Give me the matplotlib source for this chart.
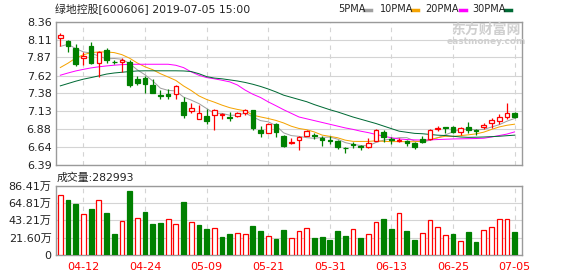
import numpy as np
import matplotlib
matplotlib.use("Agg")
import matplotlib.pyplot as plt
from matplotlib.lines import Line2D

plt.rcParams['font.family'] = ['DejaVu Sans', 'Noto Sans CJK SC']

dates = ["04-09", "04-10", "04-11", "04-12", "04-15", "04-16", "04-17", "04-18", "04-19", "04-22",
         "04-23", "04-24", "04-25", "04-26", "04-29", "04-30", "05-06", "05-07", "05-08", "05-09",
         "05-10", "05-13", "05-14", "05-15", "05-16", "05-17", "05-20", "05-21", "05-22", "05-23",
         "05-24", "05-27", "05-28", "05-29", "05-30", "05-31", "06-03", "06-04", "06-05", "06-06",
         "06-10", "06-11", "06-12", "06-13", "06-14", "06-17", "06-18", "06-19", "06-20", "06-21",
         "06-24", "06-25", "06-26", "06-27", "06-28", "07-01", "07-02", "07-03", "07-04", "07-05"]

opens = [8.13, 8.09, 8.00, 7.857, 8.026, 7.79, 7.97, 7.81, 7.80, 7.81,
         7.572, 7.58, 7.486, 7.35, 7.366, 7.362, 7.26, 7.137, 7.022, 7.064,
         7.077, 7.077, 7.05, 7.07, 7.10, 7.146, 6.871, 6.834, 6.95, 6.793,
         6.69, 6.734, 6.793, 6.80, 6.765, 6.73, 6.724, 6.63, 6.675, 6.645,
         6.633, 6.724, 6.845, 6.75, 6.72, 6.724, 6.688, 6.752, 6.743, 6.88,
         6.912, 6.91, 6.85, 6.91, 6.87, 6.917, 6.963, 7.00, 7.046, 7.10]
highs = [8.20, 8.11, 8.05, 7.94, 8.085, 7.96, 7.994, 7.84, 7.857, 7.833,
         7.614, 7.614, 7.572, 7.42, 7.43, 7.49, 7.329, 7.238, 7.215, 7.156,
         7.16, 7.11, 7.115, 7.12, 7.156, 7.15, 6.93, 6.963, 6.963, 6.80,
         6.757, 6.785, 6.87, 6.834, 6.79, 6.793, 6.734, 6.64, 6.71, 6.665,
         6.757, 6.88, 6.871, 6.78, 6.757, 6.74, 6.71, 6.79, 6.89, 6.927,
         6.915, 6.92, 6.916, 6.985, 6.89, 6.97, 7.03, 7.087, 7.238, 7.12]
lows = [8.03, 7.94, 7.755, 7.765, 7.78, 7.604, 7.79, 7.78, 7.673, 7.466,
        7.49, 7.384, 7.384, 7.30, 7.293, 7.293, 7.032, 7.109, 7.018, 6.954,
        6.871, 7.022, 7.00, 7.045, 7.077, 6.871, 6.78, 6.826, 6.78, 6.64,
        6.68, 6.596, 6.785, 6.743, 6.65, 6.68, 6.606, 6.56, 6.63, 6.596,
        6.62, 6.72, 6.71, 6.68, 6.71, 6.65, 6.606, 6.688, 6.734, 6.862,
        6.834, 6.826, 6.80, 6.826, 6.80, 6.88, 6.894, 6.954, 7.018, 7.03]
closes = [8.18, 8.02, 7.78, 7.89, 7.79, 7.95, 7.84, 7.80, 7.84, 7.49,
          7.52, 7.50, 7.384, 7.34, 7.345, 7.476, 7.077, 7.167, 7.10, 7.00,
          7.146, 7.09, 7.03, 7.10, 7.146, 6.894, 6.834, 6.954, 6.84, 6.65,
          6.70, 6.78, 6.862, 6.79, 6.73, 6.72, 6.64, 6.62, 6.665, 6.64,
          6.697, 6.871, 6.78, 6.735, 6.74, 6.697, 6.64, 6.706, 6.871, 6.895,
          6.905, 6.85, 6.894, 6.865, 6.855, 6.94, 7.008, 7.054, 7.10, 7.054]

ma5 = [8.02, 8.05, 7.99, 7.945, 7.93, 7.886, 7.85, 7.854, 7.844, 7.784,
       7.698, 7.63, 7.546, 7.446, 7.416, 7.408, 7.324, 7.282, 7.234, 7.166,
       7.10, 7.10, 7.074, 7.074, 7.104, 7.052, 7.0, 6.984, 6.932, 6.832,
       6.794, 6.784, 6.766, 6.756, 6.77, 6.774, 6.746, 6.698, 6.674, 6.658,
       6.654, 6.70, 6.732, 6.748, 6.766, 6.766, 6.72, 6.706, 6.73, 6.764,
       6.804, 6.846, 6.882, 6.88, 6.872, 6.88, 6.912, 6.944, 6.992, 7.03]
ma10 = [7.73, 7.79, 7.86, 7.905, 7.935, 7.944, 7.944, 7.935, 7.907, 7.858,
        7.792, 7.74, 7.70, 7.645, 7.60, 7.553, 7.477, 7.414, 7.34, 7.291,
        7.254, 7.213, 7.178, 7.154, 7.135, 7.076, 7.051, 7.029, 7.003, 6.968,
        6.923, 6.892, 6.875, 6.844, 6.801, 6.784, 6.765, 6.732, 6.715, 6.714,
        6.714, 6.723, 6.715, 6.711, 6.712, 6.71, 6.71, 6.719, 6.739, 6.765,
        6.785, 6.783, 6.794, 6.805, 6.818, 6.842, 6.879, 6.913, 6.936, 6.951]
ma20 = [7.624, 7.655, 7.683, 7.705, 7.725, 7.74, 7.752, 7.762, 7.77, 7.773,
        7.775, 7.775, 7.775, 7.775, 7.775, 7.761, 7.729, 7.67, 7.624, 7.592,
        7.575, 7.555, 7.533, 7.49, 7.42, 7.363, 7.318, 7.258, 7.205, 7.15,
        7.10, 7.05, 7.025, 7.0, 6.975, 6.95, 6.925, 6.90, 6.88, 6.855,
        6.835, 6.81, 6.785, 6.765, 6.748, 6.74, 6.735, 6.733, 6.735, 6.74,
        6.744, 6.748, 6.75, 6.752, 6.754, 6.758, 6.775, 6.795, 6.815, 6.845]
ma30 = [7.478, 7.51, 7.542, 7.57, 7.592, 7.615, 7.64, 7.655, 7.665, 7.675,
        7.683, 7.685, 7.685, 7.685, 7.685, 7.685, 7.683, 7.675, 7.645, 7.605,
        7.585, 7.575, 7.56, 7.545, 7.525, 7.50, 7.47, 7.435, 7.395, 7.35,
        7.32, 7.29, 7.26, 7.22, 7.185, 7.15, 7.12, 7.085, 7.05, 7.02,
        6.99, 6.96, 6.925, 6.89, 6.855, 6.84, 6.825, 6.82, 6.81, 6.80,
        6.795, 6.785, 6.775, 6.77, 6.772, 6.775, 6.78, 6.785, 6.793, 6.80]

# volume in 万手
volume = [74.8, 68.6, 63.6, 50.7, 57.4, 68.2, 52.4, 26.2, 42.0, 79.8,
          45.7, 53.6, 38.7, 39.9, 44.5, 38.2, 66.1, 40.7, 37.4, 32.4,
          33.3, 22.4, 26.2, 27.0, 25.8, 36.2, 29.9, 23.7, 20.0, 31.2,
          20.8, 29.9, 33.3, 20.8, 22.4, 19.1, 29.9, 23.7, 32.0, 21.2,
          25.8, 40.7, 44.5, 32.4, 52.0, 29.9, 18.7, 27.0, 43.6, 34.5,
          24.5, 25.8, 17.5, 28.7, 16.2, 31.2, 34.5, 44.5, 44.5, 28.2993]

price_ticks = [6.39, 6.64, 6.88, 7.13, 7.38, 7.62, 7.87, 8.11, 8.36]
vol_ticks = [0, 21.60, 43.21, 64.81, 86.41]

RED = "#ff0000"
GREEN = "#008000"
GRID = "#d4d4d4"
SPINE = "#9a9a9a"
TXT = "#222222"

o = np.array(opens)
h = np.array(highs)
l = np.array(lows)
c = np.array(closes)
x = np.arange(len(c))

fig = plt.figure(figsize=(5.78, 2.76), dpi=100)
W, H = 578, 276
ax = fig.add_axes([55.7 / W, (H - 165) / H, (522 - 55.7) / W, (165 - 21.7) / H])
axv = fig.add_axes([55.7 / W, (H - 255) / H, (522 - 55.7) / W, (255 - 185.7) / H])

label_idx = list(range(3, len(dates), 8))
for a in (ax, axv):
    a.set_xlim(-0.6, len(c) - 0.04)
    for s in a.spines.values():
        s.set_color(SPINE)
        s.set_linewidth(1.0)
    a.tick_params(length=0, labelsize=8, labelcolor=TXT, pad=3)
    for xi in label_idx:
        a.axvline(xi, color=GRID, lw=0.8, ls=(0, (4, 4)), zorder=0)

# price panel
ax.set_ylim(price_ticks[0], price_ticks[-1])
ax.set_yticks(price_ticks)
ax.set_yticklabels([f"{t:.2f}" for t in price_ticks])
ax.set_xticks([])
ax.grid(axis="y", color=GRID, lw=0.8, zorder=0)

ax.plot(x, ma5, color="#a0a0a0", lw=0.72, zorder=2)
ax.plot(x, ma10, color="#f5a300", lw=0.72, zorder=2)
ax.plot(x, ma20, color="#ff00ff", lw=0.72, zorder=2)
ax.plot(x, ma30, color="#006a35", lw=0.72, zorder=2)

up = c >= o
col = np.where(up, RED, GREEN)
lo_b = np.minimum(o, c)
hi_b = np.maximum(o, c)
ax.vlines(x, l, lo_b, colors=col, lw=0.9, zorder=3)
ax.vlines(x, hi_b, h, colors=col, lw=0.9, zorder=3)
ax.bar(x, np.maximum(hi_b - lo_b, 0.004), bottom=lo_b, width=0.6,
       color=np.where(up, "white", GREEN), edgecolor=col, linewidth=0.9, zorder=4)

# volume panel, coloured by close vs previous close
vol_up = np.r_[c[0] >= o[0], c[1:] >= c[:-1]]
vcol = np.where(vol_up, RED, GREEN)
axv.bar(x, volume, width=0.62, color=np.where(vol_up, "white", GREEN),
        edgecolor=vcol, linewidth=0.9, zorder=3)
axv.set_ylim(vol_ticks[0], vol_ticks[-1])
axv.set_yticks(vol_ticks)
axv.set_yticklabels(["0"] + [f"{t:.2f}万" for t in vol_ticks[1:]])
axv.grid(axis="y", color=GRID, lw=0.8, zorder=0)
axv.set_xticks(label_idx)
axv.set_xticklabels([dates[i] for i in label_idx], color=RED)
axv.tick_params(axis="x", pad=5, labelcolor=RED)

# header texts
fig.text(55 / W, 1 - 9 / H, "绿地控股[600606] 2019-07-05 15:00", fontsize=7.8,
         color=TXT, va="center", ha="left")
fig.text(57 / W, 1 - 177.5 / H, "成交量:282993", fontsize=7.8, color=TXT,
         va="center", ha="left")

legend = [("5PMA", "#a0a0a0", 338.5, 364.5), ("10PMA", "#f5a300", 380, 412),
          ("20PMA", "#ff00ff", 425, 459.5), ("30PMA", "#006a35", 472, 505)]
for name, colr, x0, dx in legend:
    fig.text(x0 / W, 1 - 9 / H, name, fontsize=7, color=TXT, va="center", ha="left")
    fig.add_artist(Line2D([dx / W, (dx + 6) / W], [1 - 9.5 / H, 1 - 9.5 / H],
                          color=colr, lw=2.5, transform=fig.transFigure))

# watermark
fig.text(486 / W, 1 - 30 / H, "东方财富网", fontsize=10, color="#cfcfcf",
         ha="center", va="center", fontweight="bold", family=["Noto Sans CJK SC"])
fig.text(486 / W, 1 - 41.5 / H, "eastmoney.com", fontsize=6.5, color="#cfcfcf",
         ha="center", va="center", fontweight="bold")

fig.savefig("out.png", dpi=100)
